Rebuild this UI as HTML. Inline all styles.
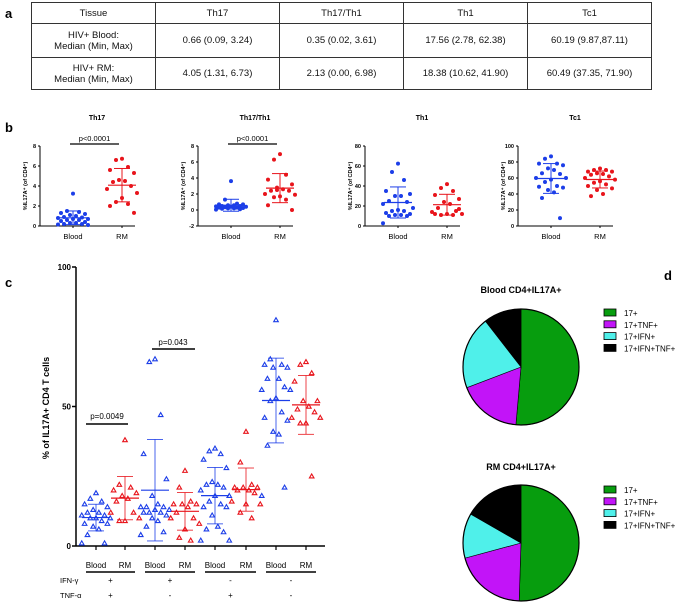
<!DOCTYPE html>
<html><head><meta charset="utf-8"><style>
html,body{margin:0;padding:0;background:#fff;}
body{width:685px;height:603px;overflow:hidden;position:relative;font-family:"Liberation Sans",Arial,sans-serif;}
table{position:absolute;left:31px;top:2px;border-collapse:collapse;font-size:9.5px;color:#111;}
td{border:1px solid #333;text-align:center;width:123px;padding:0;line-height:11px;}
.lbl{position:absolute;font-weight:bold;font-size:13px;}
svg{position:absolute;left:0;top:0;}
</style></head><body>
<div class="lbl" style="left:5px;top:6px">a</div>
<table>
<tr style="height:21px"><td>Tissue</td><td>Th17</td><td>Th17/Th1</td><td>Th1</td><td>Tc1</td></tr>
<tr style="height:34px"><td>HIV+ Blood:<br>Median (Min, Max)</td><td>0.66 (0.09, 3.24)</td><td>0.35 (0.02, 3.61)</td><td>17.56 (2.78, 62.38)</td><td>60.19 (9.87,87.11)</td></tr>
<tr style="height:32px"><td>HIV+ RM:<br>Median (Min, Max)</td><td>4.05 (1.31, 6.73)</td><td>2.13 (0.00, 6.98)</td><td>18.38 (10.62, 41.90)</td><td>60.49 (37.35, 71.90)</td></tr>
</table>
<div class="lbl" style="left:5px;top:120px">b</div>
<div class="lbl" style="left:5px;top:275px">c</div>
<div class="lbl" style="left:664px;top:268px">d</div>
<svg id="s" width="685" height="603"></svg>
<script>
// Panel b data
const bTitles=["Th17","Th17/Th1","Th1","Tc1"];
const bBlood0=[3.24,1.5,1.4,1.3,1.2,1.1,1.0,0.9,0.85,0.8,0.7,0.7,0.6,0.6,0.5,0.4,0.3,0.3,0.2,0.2,0.15,0.1];
const bRM0=[6.73,6.6,5.9,5.6,5.3,4.6,4.5,4.4,4.0,3.7,3.3,2.8,2.4,2.2,2.0,1.31];
const bBlood1=[3.61,1.3,0.8,0.7,0.7,0.6,0.6,0.5,0.5,0.45,0.4,0.4,0.35,0.3,0.3,0.25,0.2,0.2,0.15,0.1,0.05];
const bRM1=[6.98,6.3,4.4,3.8,3.2,2.8,2.6,2.4,2.4,2.0,1.9,1.7,1.6,1.3,0.6,0.0,2.5];
const bBlood2=[62.4,54,46,35,32,30,30,25,24,22,18,16,15,15,13,12,11,11,10,10,2.8];
const bRM2=[41.9,38,35,31,27,24,22,18,15,14,12,12,11,11,12,17];
const bBlood3=[87.1,84,78,78,76,72,70,66,65,60,60,58,55,50,49,48,45,42,35,9.9];
const bRM3=[71.9,70,70,68,68,66,65,64,62,60,58,56,54,52,50,47,45,40,37.4];
const bYTicks0=[0,2,4,6,8], bYTicks1=[-2,0,2,4,6,8], bYTicks2=[0,20,40,60,80], bYTicks3=[0,20,40,60,80,100];
const bPvals=["p<0.0001","p<0.0001",null,null];
// Panel c data
const cCats=["Blood","RM","Blood","RM","Blood","RM","Blood","RM"];
const cIFN=["+","+","-","-"], cTNF=["+","-","+","-"];
const cG0=[19,17,16,15,14,13,12,12,11,11,10,10,10,9,8,8,7,6,4,1,1];
const cG1=[38,22,21,20,19,18,17,16,12,12,10,9,9];
const cG2=[67,66,47,33,24,18,15,14,14,14,13,13,12,12,12,11,10,9,7,5,4];
const cG3=[27,21,16,15,15,15,14,12,10,10,8,6,3,2];
const cG4=[35,34,33,31,28,23,22,22,21,20,18,18,16,15,14,14,11,7,6,5,2,2];
const cG5=[41,30,22,21,21,21,20,20,19,16,15,15,12,10];
const cG6=[81,67,65,65,64,64,60,60,57,56,56,53,52,48,46,45,41,40,36,21,18];
const cG7=[66,65,62,59,52,52,50,49,48,46,46,44,44,25];
const cYTicks=[0,50,100];
// Panel d data
const dLabels=["17+","17+TNF+","17+IFN+","17+IFN+TNF+"];
const dBlood=[51.4,17.8,20.3,10.5];
const dRM=[50.5,20.3,12.5,16.7];

const S=document.getElementById('s'),NS="http://www.w3.org/2000/svg";
function mk(t,a,name,p){const e=document.createElementNS(NS,t);for(const k in a)e.setAttribute(k,a[k]);


(p||S).appendChild(e);return e;}
function txt(x,y,s,sz,name,extra){const e=mk('text',Object.assign({x:x,y:y,'font-size':sz,'text-anchor':'middle',fill:'#000'},extra||{}),name);e.textContent=s;return e;}
function stats(a){const m=a.reduce((s,v)=>s+v,0)/a.length;const sd=Math.sqrt(a.reduce((s,v)=>s+(v-m)*(v-m),0)/(a.length-1));return[m,sd];}
const jit=[0,-6,6,-12,12,-3,3,-9,9,-15,15];

// Panel b
const bData=[[bBlood0,bRM0],[bBlood1,bRM1],[bBlood2,bRM2],[bBlood3,bRM3]];
const bTicks=[bYTicks0,bYTicks1,bYTicks2,bYTicks3];
const bAx=[40,198,365,518];
bData.forEach((pair,ci)=>{
 const ax=bAx[ci],tk=bTicks[ci],lo=tk[0],hi=tk[tk.length-1],top=146,bot=226;
 const Y=v=>bot-(v-lo)/(hi-lo)*(bot-top);
 const xB=ax+33,xR=ax+82;
 txt(ax+57,120,bTitles[ci],7,'chart-title-'+ci,{'font-weight':'bold'});
 mk('line',{x1:ax,y1:top,x2:ax,y2:bot,stroke:'#000','stroke-width':1},'y-axis-'+ci);
 const zy=Y(Math.max(lo,0)); const xaY=lo<0?bot:zy;
 mk('line',{x1:ax,y1:bot,x2:ax+95,y2:bot,stroke:'#000','stroke-width':1},'x-axis-'+ci);
 tk.forEach(t=>{mk('line',{x1:ax-2,y1:Y(t),x2:ax,y2:Y(t),stroke:'#000'},'y-tick');txt(ax-4,Y(t)+2,String(t),5.5,'y-tick-label',{'text-anchor':'end','font-weight':'bold'});});
 [xB,xR].forEach(x=>mk('line',{x1:x,y1:bot,x2:x,y2:bot+2,stroke:'#000'},'x-tick'));
 txt(xB,239,'Blood',7.5,'x-label-blood');txt(xR,239,'RM',7.5,'x-label-rm');
 const yl=txt(0,0,'%IL17A⁺ (of CD4⁺)',5.5,'y-axis-title-'+ci,{'font-weight':'bold',transform:`translate(${ax-13},${(top+bot)/2}) rotate(-90)`});
 pair.forEach((arr,gi)=>{const cx=gi?xR:xB,col=gi?'#e8141b':'#1c3ee8';
  arr.forEach((v,i)=>mk('circle',{cx:cx+jit[i%11]*1.0,cy:Y(v),r:2,fill:col},gi?'rm-point':'blood-point'));
  const [m,sd]=stats(arr);
  mk('line',{x1:cx-14,y1:Y(m),x2:cx+14,y2:Y(m),stroke:col,'stroke-width':1.2},'mean-line');
  mk('line',{x1:cx,y1:Y(m-sd),x2:cx,y2:Y(m+sd),stroke:col,'stroke-width':1},'sd-line');
  [m-sd,m+sd].forEach(v=>mk('line',{x1:cx-8,y1:Y(v),x2:cx+8,y2:Y(v),stroke:col,'stroke-width':1},'sd-cap'));
 });
 if(bPvals[ci]){mk('line',{x1:xB-3,y1:144,x2:xR-3,y2:144,stroke:'#000','stroke-width':1.2},'p-bar');txt((xB+xR)/2-3,141,bPvals[ci],7.5,'p-value-'+ci);}
});

// Panel c
const cData=[cG0,cG1,cG2,cG3,cG4,cG5,cG6,cG7];
const cX=[96,125,155,185,215,246,276,306];
const cTop=267,cBot=546;
const CY=v=>cBot-v/100*(cBot-cTop);
mk('line',{x1:76,y1:cTop,x2:76,y2:cBot,stroke:'#000','stroke-width':1.5},'c-y-axis');
mk('line',{x1:76,y1:cBot,x2:325,y2:cBot,stroke:'#000','stroke-width':1.5},'c-x-axis');
cYTicks.forEach(t=>{mk('line',{x1:72,y1:CY(t),x2:76,y2:CY(t),stroke:'#000','stroke-width':1.5},'c-y-tick');txt(71,CY(t)+3,String(t),8,'c-y-tick-label',{'text-anchor':'end','font-weight':'bold'});});
txt(0,0,'% of IL17A+ CD4 T cells',9,'c-y-axis-title',{'font-weight':'bold',transform:'translate(49,408) rotate(-90)'});
cData.forEach((arr,gi)=>{const cx=cX[gi],col=gi%2?'#e8141b':'#1c3ee8';
 mk('line',{x1:cx,y1:cBot,x2:cx,y2:cBot+4,stroke:'#000','stroke-width':1.2},'c-x-tick');
 txt(cx,568,cCats[gi],8,'c-x-label');
 arr.forEach((v,i)=>{const x=cx+jit[i%11]*0.95,y=CY(v);mk('polygon',{points:`${x},${y-2.3} ${x-2.3},${y+1.7} ${x+2.3},${y+1.7}`,fill:'none',stroke:col,'stroke-width':1.1},'triangle-point');});
 const [m,sd]=stats(arr);
 mk('line',{x1:cx-14,y1:CY(m),x2:cx+14,y2:CY(m),stroke:col,'stroke-width':1.2},'c-mean-line');
 mk('line',{x1:cx,y1:CY(Math.max(0,m-sd)),x2:cx,y2:CY(m+sd),stroke:col,'stroke-width':0.8},'c-sd-line');
 [Math.max(0,m-sd),m+sd].forEach(v=>mk('line',{x1:cx-8,y1:CY(v),x2:cx+8,y2:CY(v),stroke:col,'stroke-width':0.8},'c-sd-cap'));
});
for(let k=0;k<4;k++){const a=cX[2*k],b=cX[2*k+1];
 mk('line',{x1:a-10,y1:572,x2:b+10,y2:572,stroke:'#000','stroke-width':1.5},'group-underline');
 txt((a+b)/2,583,cIFN[k],8,'ifn-sign');txt((a+b)/2,598,cTNF[k],8,'tnf-sign');}
txt(60,583,'IFN-γ',7.5,'ifn-label',{'text-anchor':'start'});
txt(60,598,'TNF-α',7.5,'tnf-label',{'text-anchor':'start'});
mk('line',{x1:86,y1:424,x2:128,y2:424,stroke:'#000','stroke-width':1.5},'p-bar-c1');txt(107,419,'p=0.0049',8,'p-value-c1');
mk('line',{x1:152,y1:349,x2:195,y2:349,stroke:'#000','stroke-width':1.5},'p-bar-c2');txt(173,345,'p=0.043',8,'p-value-c2');

// Panel d
const dCols=['#079d0e','#c214f8','#4ff0ea','#000'];
function pie(vals,cx,cy,r,title,ty,ly,nm){
 txt(cx,ty,title,9,nm+'-title',{'font-weight':'bold'});
 const tot=vals.reduce((s,v)=>s+v,0);let a0=0;
 vals.forEach((v,i)=>{const a1=a0+v/tot*2*Math.PI;
  const x0=cx+r*Math.sin(a0),y0=cy-r*Math.cos(a0),x1=cx+r*Math.sin(a1),y1=cy-r*Math.cos(a1);
  mk('path',{d:`M${cx},${cy}L${x0},${y0}A${r},${r} 0 ${a1-a0>Math.PI?1:0} 1 ${x1},${y1}Z`,fill:dCols[i],stroke:'#000','stroke-width':0.6},nm+'-slice-'+i);a0=a1;});
 mk('circle',{cx:cx,cy:cy,r:r,fill:'none',stroke:'#000','stroke-width':1.2},nm+'-outline');
 dLabels.forEach((l,i)=>{const y=ly+i*11.8;mk('rect',{x:604,y:y-4,width:12,height:7,fill:dCols[i],stroke:'#000','stroke-width':0.8},'legend-swatch');txt(624,y+3,l,8,'legend-entry',{'text-anchor':'start'});});
}
pie(dBlood,521,367,58,'Blood CD4+IL17A+',293,313,'blood-pie');
pie(dRM,521,543,58,'RM CD4+IL17A+',470,490,'rm-pie');
</script>
</body></html>
